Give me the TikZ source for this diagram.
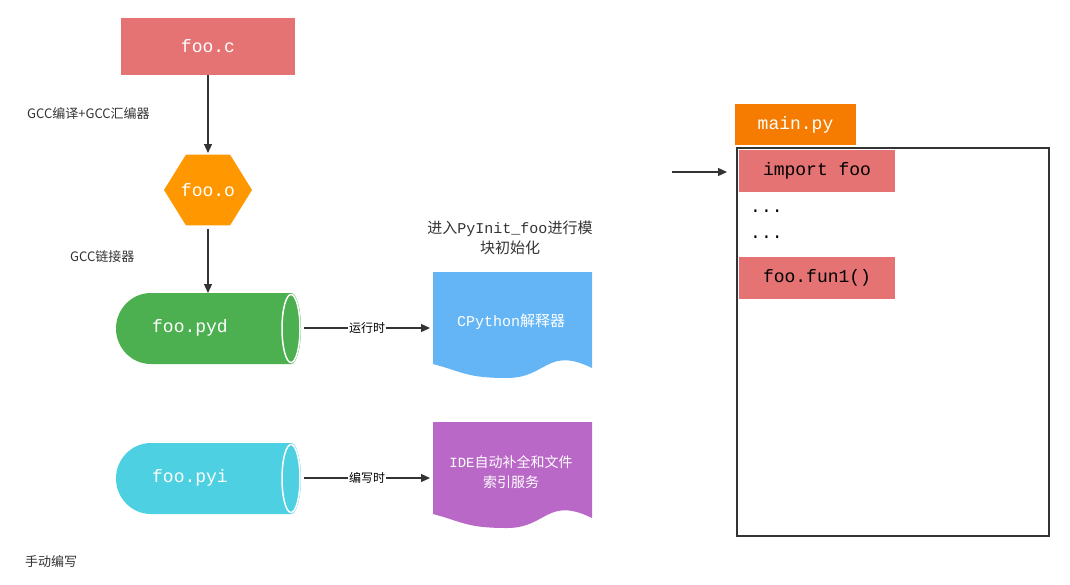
\documentclass[tikz,border=0pt]{standalone}
\usepackage{fontspec}
\setmainfont{Liberation Mono}
\newfontfamily\cjk{Noto Sans CJK SC}
\usetikzlibrary{shapes.geometric,arrows.meta}
\definecolor{boxred}{HTML}{E57373}
\definecolor{hexorange}{HTML}{FF9800}
\definecolor{taborange}{HTML}{F57C00}
\definecolor{pydgreen}{HTML}{4CAF50}
\definecolor{pyicyan}{HTML}{4DD0E1}
\definecolor{docblue}{HTML}{64B5F6}
\definecolor{docpurple}{HTML}{BA68C8}
\definecolor{inkgray}{HTML}{333333}
\tikzset{
  flow/.style={draw=inkgray, line width=1.3pt, -{Triangle[length=9pt,width=8pt]}},
  code/.style={font=\fontsize{18}{20}\selectfont, inner sep=0pt},
  note/.style={font=\cjk\fontsize{13}{18}\selectfont, text=inkgray, inner sep=0pt, align=center},
  edgelabel/.style={font=\cjk\fontsize{12}{14}\selectfont, fill=white, inner sep=1pt, text=black},
}
\newcommand{\docshape}[3]{% x-left, y-top, colour
  \fill[#3] (#1,#2) -- ++(159,0) -- ++(0,96)
    .. controls +(-45,-22) and +(40,0) .. ++(-85,10)
    .. controls +(-40,0) and +(30,8) .. ++(-74,-14) -- cycle;
}
\newcommand{\tube}[3]{% x-left, y-top, colour
  \fill[#3] ({#1+35},#2) -- ({#1+175},#2)
    arc[start angle=-90,end angle=90,x radius=10,y radius=35.5]
    -- ({#1+35},{#2+71})
    arc[start angle=90,end angle=270,x radius=35,y radius=35.5] -- cycle;
  \draw[white, line width=1.5pt] ({#1+175},{#2+35.5}) ellipse[x radius=9,y radius=34];
}
\begin{document}
\begin{tikzpicture}[x=1pt,y=-1pt]
\useasboundingbox (0,0) rectangle (1070,584);

% left column
\node[code, fill=boxred, text=white, minimum width=174pt, minimum height=57pt] (fooc) at (208,46.5) {foo.c};
\node[fill=hexorange, regular polygon, regular polygon sides=6, minimum size=88pt,
      inner sep=0pt, yscale=0.93] (fooo) at (208,190) {};
\node[code, text=white] at (fooo) {foo.o};
\tube{116}{293}{pydgreen}
\node[code, text=white] (foopyd) at (190,328) {foo.pyd};
\coordinate (pydtop) at (208,293);
\coordinate (pydright) at (304,328);
\tube{116}{443}{pyicyan}
\node[code, text=white] (foopyi) at (190,478) {foo.pyi};
\coordinate (pyiright) at (304,478);

\draw[flow] (fooc.south) -- (208,153);
\draw[flow] (208,229) -- (pydtop);

\node[note, anchor=west] (gcc1) at (27,114) {GCC编译+GCC汇编器};
\node[note, anchor=west] (gcc2) at (70,257) {GCC链接器};
\node[note, anchor=west] (manual) at (25,562) {手动编写};

% documents
\docshape{433}{272}{docblue}
\node[font=\fontsize{15}{18}\selectfont, text=white] (cpy) at (511,322) {CPython{\cjk 解释器}};
\coordinate (cpyleft) at (430,328);
\docshape{433}{422}{docpurple}
\node[font=\fontsize{14}{20}\selectfont, text=white, align=center] (ide) at (511,472) {IDE{\cjk 自动补全和文件}\\{\cjk 索引服务}};
\coordinate (ideleft) at (430,478);
\node[font=\fontsize{15}{20}\selectfont, text=inkgray, align=center] (pyinit) at (510,238)
  {{\cjk 进入}PyInit\_foo{\cjk 进行模}\\{\cjk 块初始化}};

\draw[flow] (pydright) -- (cpyleft) node[edgelabel, midway] {运行时};
\draw[flow] (pyiright) -- (ideleft) node[edgelabel, midway] {编写时};

% main.py
\node[code, fill=taborange, text=white, minimum width=121pt, minimum height=41pt] (mainpy) at (795.5,124.5) {main.py};
\draw[inkgray, line width=1.3pt] (737,148) rectangle (1049,536);
\node[code, fill=boxred, text=black, minimum width=156pt, minimum height=42pt] (imp) at (817,171) {import foo};
\node[code, anchor=west] (dots1) at (750,211) {...};
\node[code, anchor=west] (dots2) at (750,237) {...};
\node[code, fill=boxred, text=black, minimum width=156pt, minimum height=42pt] (fun) at (817,278) {foo.fun1()};
\coordinate (runin) at (672,172);
\draw[flow] (runin) -- (727,172);
\end{tikzpicture}
\end{document}
